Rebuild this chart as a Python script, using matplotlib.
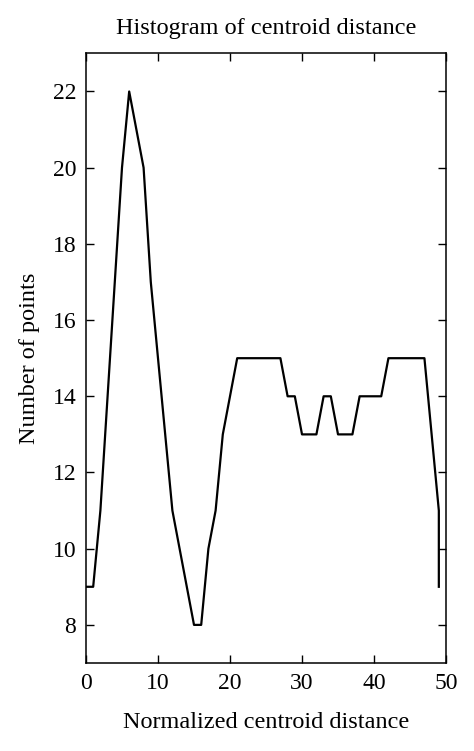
import matplotlib
matplotlib.use("Agg")
import matplotlib.pyplot as plt

# Data
bins = list(range(0, 50)) + [49]
counts = [9, 9, 11, 14, 17, 20, 22, 21, 20, 17,
          15, 13, 11, 10, 9, 8, 8, 10, 11, 13,
          14, 15, 15, 15, 15, 15, 15, 15, 14, 14,
          13, 13, 13, 14, 14, 13, 13, 13, 14, 14,
          14, 14, 15, 15, 15, 15, 15, 15, 13, 11,
          9]
x_ticks = [0, 10, 20, 30, 40, 50]
y_ticks = [8, 10, 12, 14, 16, 18, 20, 22]

plt.rcParams['font.family'] = ['Liberation Serif', 'DejaVu Serif']

fig = plt.figure(figsize=(4.74, 7.51), dpi=100)
ax = fig.add_axes([0.1814, 0.1172, 0.7596, 0.8117])
ax.plot(bins, counts, color='black', linewidth=1.6)
ax.set_xlim(0, 50)
ax.set_ylim(7, 23)
ax.set_xticks(x_ticks)
ax.set_yticks(y_ticks)
ax.tick_params(direction='in', top=True, right=True, length=6, width=1,
               labelsize=17, pad=7, colors='black')
for s in ax.spines.values():
    s.set_linewidth(1.1)
ax.set_title('Histogram of centroid distance', fontsize=17.5, pad=14)
ax.set_xlabel('Normalized centroid distance', fontsize=17.5, labelpad=13)
ax.set_ylabel('Number of points', fontsize=17.5, labelpad=9)
fig.savefig('out.png', dpi=100)
